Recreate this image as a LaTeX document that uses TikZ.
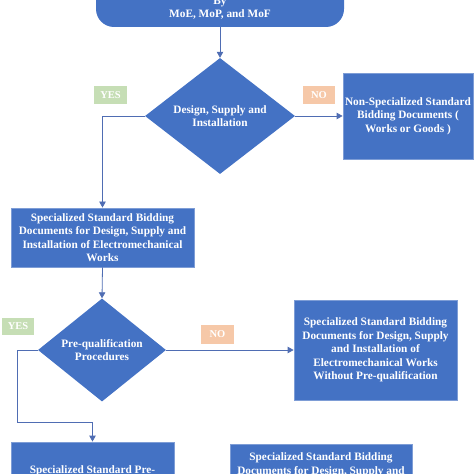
\documentclass[tikz,border=0pt]{standalone}
\usepackage{fontspec}
\setmainfont{Liberation Serif}
\usetikzlibrary{shapes.geometric,arrows.meta}
\definecolor{boxblue}{HTML}{4472C4}
\definecolor{boxedge}{HTML}{7E9DD6}
\definecolor{linkblue}{HTML}{4F6DB3}
\definecolor{yesgreen}{HTML}{C6DEB5}
\definecolor{nopeach}{HTML}{F6C8A8}
\tikzset{
  every node/.style={font=\fontsize{11.3bp}{13.5bp}\selectfont\bfseries, text=white},
  procbox/.style={draw=boxedge, line width=0.8bp, fill=boxblue, rectangle, inner sep=0pt, align=center},
  decbox/.style={fill=boxblue, diamond, inner sep=0pt, align=center},
  tag/.style={rectangle, inner sep=0pt, font=\fontsize{10.5bp}{12bp}\selectfont\bfseries},
  link/.style={draw=linkblue, line width=0.8bp, -{Triangle[length=6bp,width=6.5bp]}}
}
\begin{document}
\begin{tikzpicture}[x=1bp,y=-1bp]
\useasboundingbox (0,0) rectangle (474,474);
\clip (0,0) rectangle (474,474);
% top terminal
\node[procbox, draw=none, rounded corners=18bp, minimum width=248bp, minimum height=60bp] (start) at (220,-3) {};
\node (starttext) at (220,8) [align=center] {By\\MoE, MoP, and MoF};
% decision 1
\node[decbox, minimum width=150bp, minimum height=116bp] (d1) at (220,116) {Design, Supply and\\Installation};
\node[tag, fill=yesgreen, minimum width=33bp, minimum height=18bp] (yes1) at (110.5,95) {YES};
\node[tag, fill=nopeach, minimum width=32bp, minimum height=18bp] (no1) at (319,95) {NO};
\node[procbox, minimum width=130bp, minimum height=86bp] (b1) at (408,116) {Non-Specialized Standard\\Bidding Documents (\\Works or Goods )};
% box 2
\node[procbox, minimum width=183bp, minimum height=59bp] (b2) at (102.5,237.5) {Specialized Standard Bidding\\Documents for Design, Supply and\\Installation of Electromechanical\\Works};
% decision 2
\node[decbox, minimum width=128bp, minimum height=98bp] (d2) at (102,350) {Pre-qualification\\Procedures};
\node[tag, fill=yesgreen, minimum width=32bp, minimum height=17bp] (yes2) at (18,326.5) {YES};
\node[tag, fill=nopeach, minimum width=33bp, minimum height=19bp] (no2) at (217.5,334.5) {NO};
\node[procbox, minimum width=163bp, minimum height=100bp] (b3) at (375.5,350) {Specialized Standard Bidding\\Documents for Design, Supply\\and Installation of\\Electromechanical Works\\Without Pre-qualification};
% bottom boxes
\node[procbox, minimum width=163bp, minimum height=80bp] (b4) at (92.5,482) {};
\node (b4text) at (92.5,471) {Specialized Standard Pre-};
\node[procbox, minimum width=182bp, minimum height=80bp] (b5) at (321,484) {};
\node (b5text) at (321,465) [align=center] {Specialized Standard Bidding\\Documents for Design, Supply and};
% connectors
\coordinate (c1) at (17,350);
\coordinate (c2) at (17,422);
\coordinate (c3) at (92.5,422);
\draw[link] (start.south) -- (d1.north);
\draw[link] (d1.east) -- (b1.west);
\draw[link] (d1.west) -| (b2.north);
\draw[link] (b2.south) -- (d2.north);
\draw[link] (d2.east) -- (b3.west);
\draw[link] (d2.west) -- (c1) -- (c2) -- (c3) -- (b4.north);
\end{tikzpicture}
\end{document}
